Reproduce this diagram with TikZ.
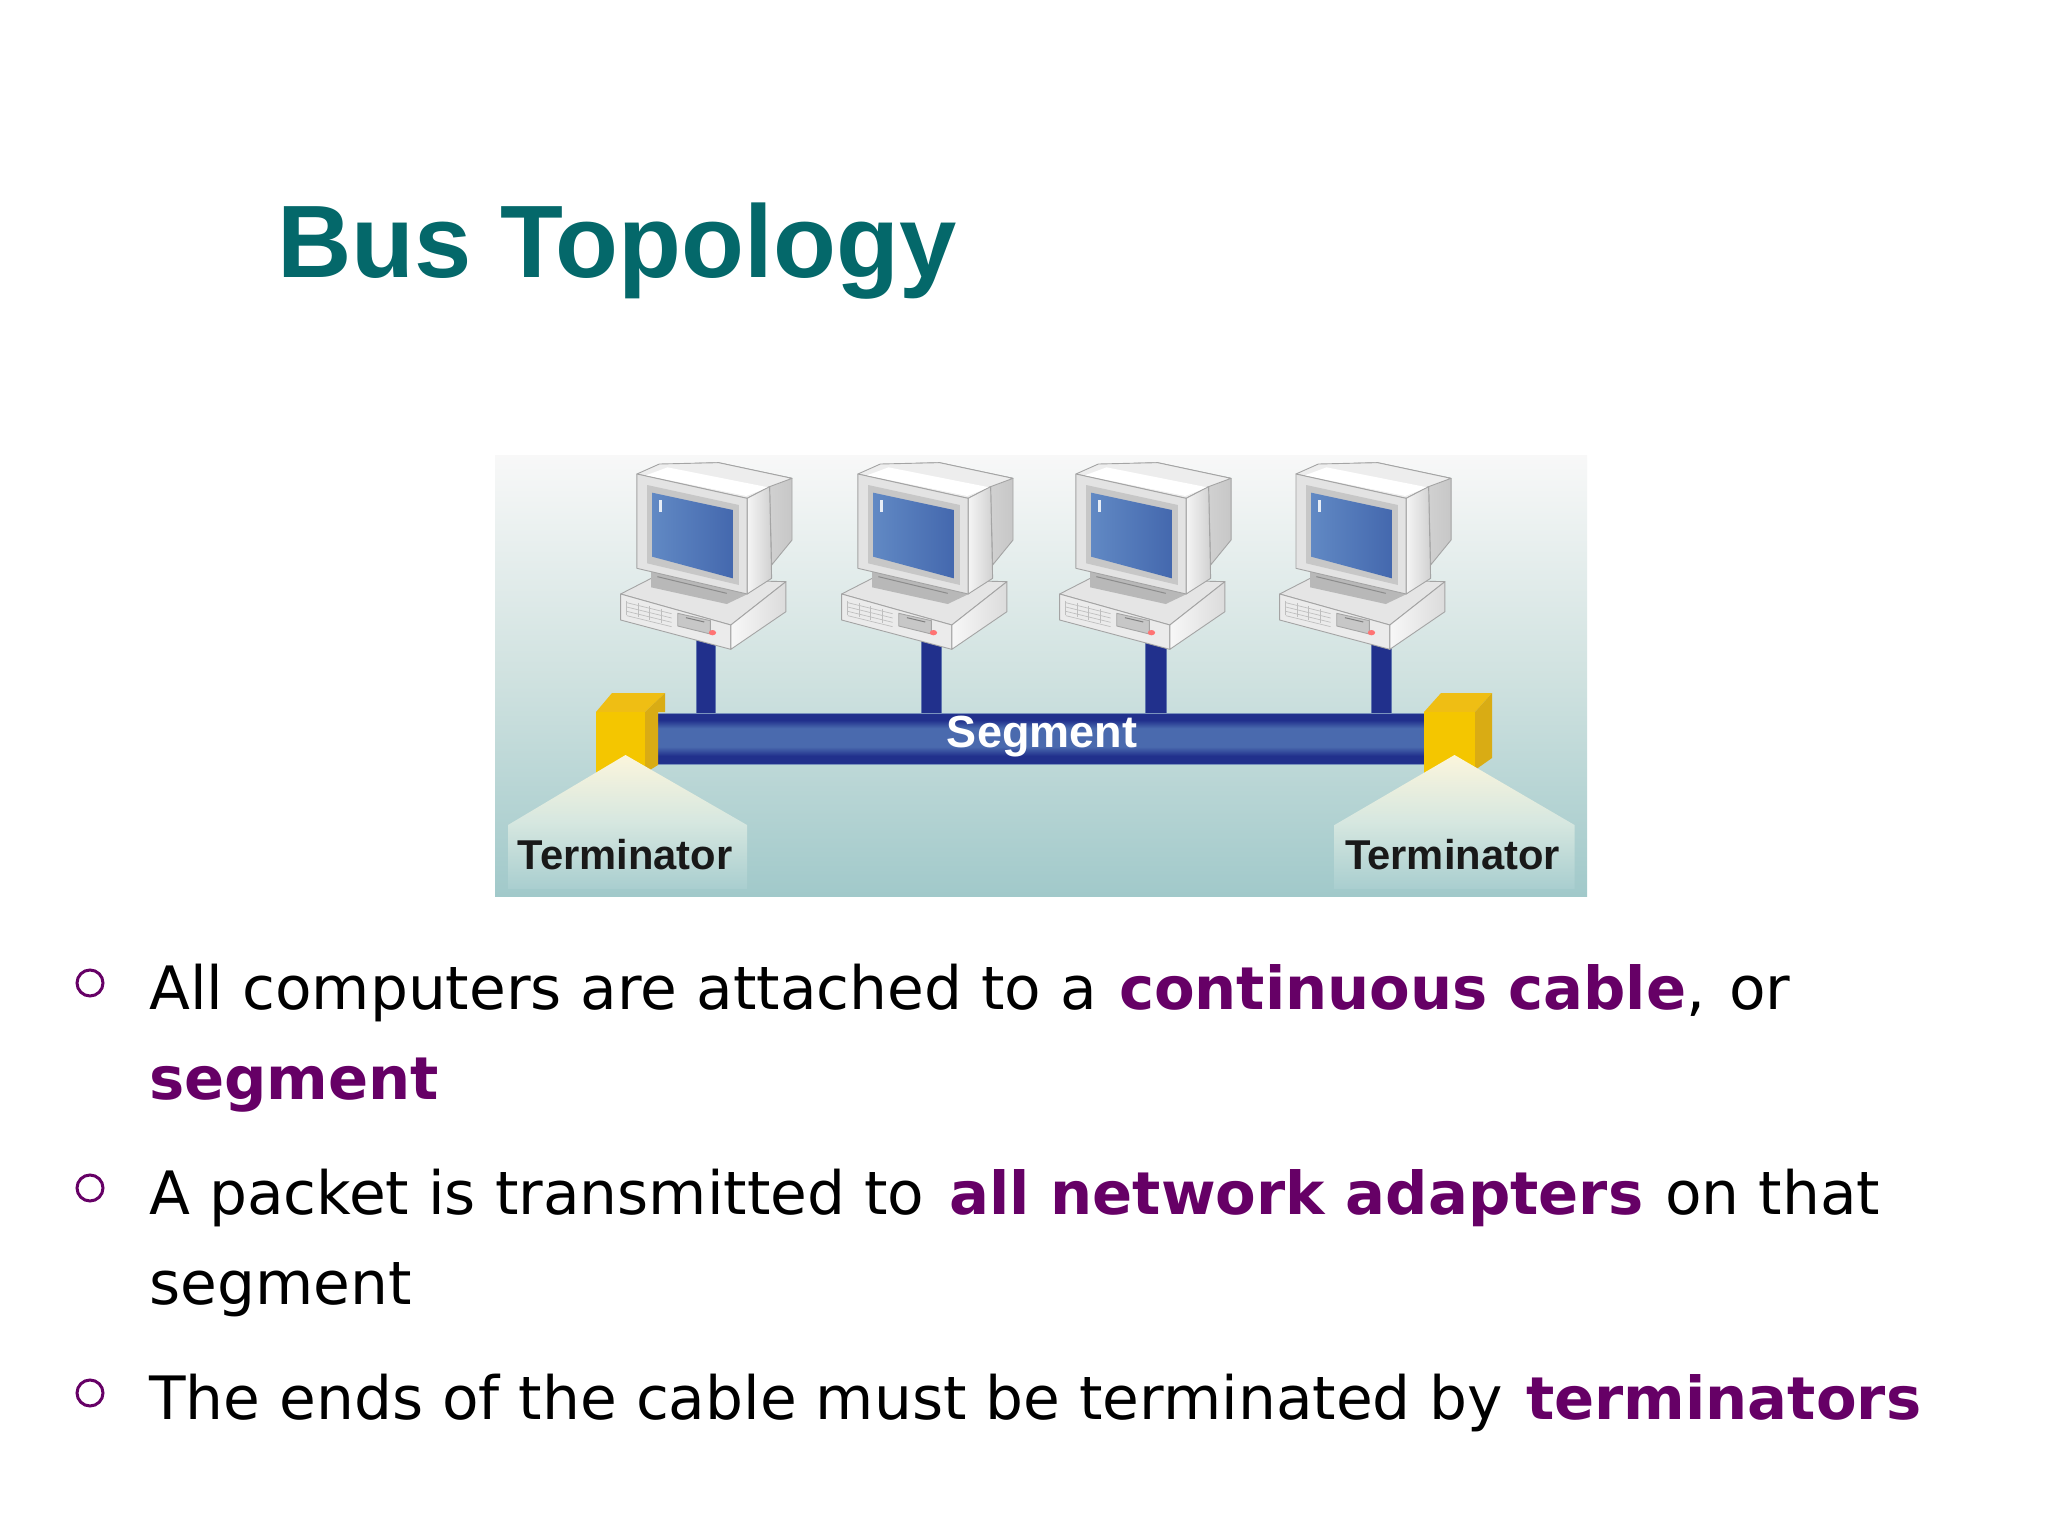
\documentclass[tikz,border=0pt]{standalone}
\usepackage{fontspec}
\usetikzlibrary{calc}
\setmainfont{DejaVu Sans}
\newfontfamily\arialf{Liberation Sans}
\definecolor{teal1}{HTML}{04686A}
\definecolor{plum1}{HTML}{660066}
\definecolor{navy1}{HTML}{21308C}
\definecolor{gline}{HTML}{A4A4A4}
\definecolor{bluemid}{HTML}{4A6AAE}
\definecolor{busedge}{HTML}{7A93BE}
\definecolor{termy}{HTML}{F4C600}
\definecolor{termd}{HTML}{D9AC14}
\definecolor{terml}{HTML}{EFBE14}
\definecolor{calltop}{HTML}{FBF5DC}
\definecolor{callmid}{HTML}{D6E7E0}
\definecolor{callbot}{HTML}{A9CECF}
\definecolor{screenl}{HTML}{6189C4}
\definecolor{screenr}{HTML}{4468AE}
\definecolor{panelt}{HTML}{F8F8F8}
\definecolor{panelm}{HTML}{D0E2E0}
\definecolor{panelb}{HTML}{A1C9CA}
\pgfdeclareverticalshading{busshade}{100bp}{
 color(0bp)=(busedge); color(25bp)=(busedge); color(26bp)=(navy1); color(33bp)=(navy1); color(42bp)=(bluemid); color(60bp)=(bluemid); color(68bp)=(navy1); color(74bp)=(navy1); color(75bp)=(busedge); color(100bp)=(busedge)}
\tikzset{
  bodytext/.style={anchor=base west,inner sep=0pt,font=\fontsize{59.8}{59.8}\selectfont,text=black},
  bullet/.style={circle,draw=plum1,line width=3pt,minimum size=26pt,inner sep=0pt,fill=none},
  termlabel/.style={inner sep=0pt,font=\arialf\bfseries\fontsize{41.7}{41.7}\selectfont,text=black!90},
  callout/.style={top color=calltop,bottom color=callbot,middle color=callmid,draw=none},
  drop/.style={fill=navy1,draw=busedge!70!navy1,line width=1pt},
  facet/.style={draw=gline,line width=.9pt,line join=round},
  termfront/.style={fill=termy},
  termside/.style={fill=termd},
  termtop/.style={fill=terml},
}
\newcommand{\bb}[1]{{\fontsize{59.2}{59.2}\selectfont\bfseries\color{plum1}#1}}
\newcommand{\computerpic}[1]{%
 \begin{scope}[shift={(490+#1,450)},x=0.40816pt,y=-0.33333pt]
  % case
  \path[facet,fill=black!10] (320,432)--(395,385)--(725,395)--(590,525)--cycle;
  \path[facet,fill=black!8] (320,432)--(590,525)--(590,598)--(320,510)--cycle;
  \path[facet,left color=black!3,right color=black!14] (590,525)--(725,395)--(725,485)--(590,598)--cycle;
  \foreach \q in {0,1,2,3}{
    \draw[gline!70!white,line width=.7pt] ($(335,452)+(\q*28,\q*8)$)--++(0,42);
    \draw[gline!70!white,line width=.7pt] ($(335,458)+(0,\q*13)$)--++(110,33);
  }
  \path[facet,fill=black!22] (460,490)--(540,512)--(540,552)--(460,528)--cycle;
  \draw[black!50,line width=1pt] (480,503)--(525,516);
  \fill[red!55!white] (545,548) ellipse (9 and 8);
  % neck
  \path[fill=black!28] (395,365)--(635,430)--(580,462)--(395,412)--cycle;
  \draw[black!45,line width=1pt] (410,380)--(580,430);
  % rear housing
  \path[facet,left color=black!5,right color=black!22] (500,40)--(560,38)--(740,85)--(740,270)--(690,345)--(685,110)--cycle;
  % top
  \path[facet,fill=black!7] (360,72)--(415,42)--(560,38)--(740,85)--(685,110)--(630,145)--cycle;
  \fill[white] (382,76)--(435,52)--(682,112)--(628,138)--cycle;
  % side
  \path[facet,left color=black!4,right color=black!18] (630,145)--(685,110)--(690,385)--(630,432)--cycle;
  % front bezel
  \path[facet,fill=black!11] (360,72)--(630,145)--(630,432)--(360,355)--cycle;
  \path[fill=black!22] (385,105)--(610,165)--(610,405)--(385,340)--cycle;
  \path[left color=screenl,right color=screenr] (397,128)--(595,180)--(595,385)--(397,320)--cycle;
  \fill[white!85!screenl] (413,150) rectangle (421,186);
 \end{scope}}
\begin{document}
\begin{tikzpicture}[x=1pt,y=-1pt]
\useasboundingbox (0,0) rectangle (2048,1536);
\fill[white] (0,0) rectangle (2048,1536);
\node[anchor=base west,inner sep=0pt,text=teal1,font=\arialf\bfseries\fontsize{103}{103}\selectfont] (title) at (277,277) {Bus Topology};
% panel
\shade[top color=panelt,bottom color=panelb,middle color=panelm] (495,455) rectangle (1587,896);
% drops
\foreach \xa/\xb in {696/715,921/941,1145/1166,1371/1391}{
  \path[drop] (\xa,640) rectangle (\xb,716);
}
% computers
\computerpic{0}
\computerpic{221}
\computerpic{439}
\computerpic{659}
% bus
\path[shading=busshade] (657,713) rectangle (1424,764);
\node[inner sep=0pt,text=white,font=\arialf\bfseries\fontsize{45}{45}\selectfont] (segment) at (1042,737) {Segment};
% left terminator
\fill[termtop] (596,712)--(612,693)--(665,693)--(645,712)--cycle;
\fill[termside] (645,712)--(665,693)--(665,712)--(658,712)--(658,765)--(645,773)--cycle;
\fill[termfront] (596,712) rectangle (645,775);
% right terminator
\fill[termtop] (1424,712)--(1441,693)--(1492,693)--(1475,712)--cycle;
\fill[termside] (1475,712)--(1492,693)--(1492,758)--(1475,770)--cycle;
\fill[termfront] (1424,712) rectangle (1475,775);
% callouts
\path[callout] (625.5,755)--(747,825)--(747,889)--(508,889)--(508,825)--cycle;
\path[callout] (1454.5,755)--(1574.5,825)--(1574.5,889)--(1334.5,889)--(1334.5,825)--cycle;
\node[termlabel] (termL) at (625,855) {Terminator};
\node[termlabel] (termR) at (1452.5,855) {Terminator};
% bullets
\node[bullet] (b1) at (90,983) {};
\node[bullet] (b2) at (90,1188) {};
\node[bullet] (b3) at (90,1393) {};
% body
\node[bodytext] (l1) at (149,1009) {All computers are attached to a\hspace{3pt} \bb{continuous cable}, \hspace{5pt}or};
\node[bodytext] (l2) at (149,1099) {\bb{segment}};
\node[bodytext] (l3) at (149,1214) {A packet is transmitted to\hspace{6pt} \bb{all network adapters}\hspace{3pt} on that};
\node[bodytext] (l4) at (149,1304) {segment};
\node[bodytext] (l5) at (149,1419) {The ends of the cable must be terminated by\hspace{4pt} \bb{terminators}};
\end{tikzpicture}
\end{document}
